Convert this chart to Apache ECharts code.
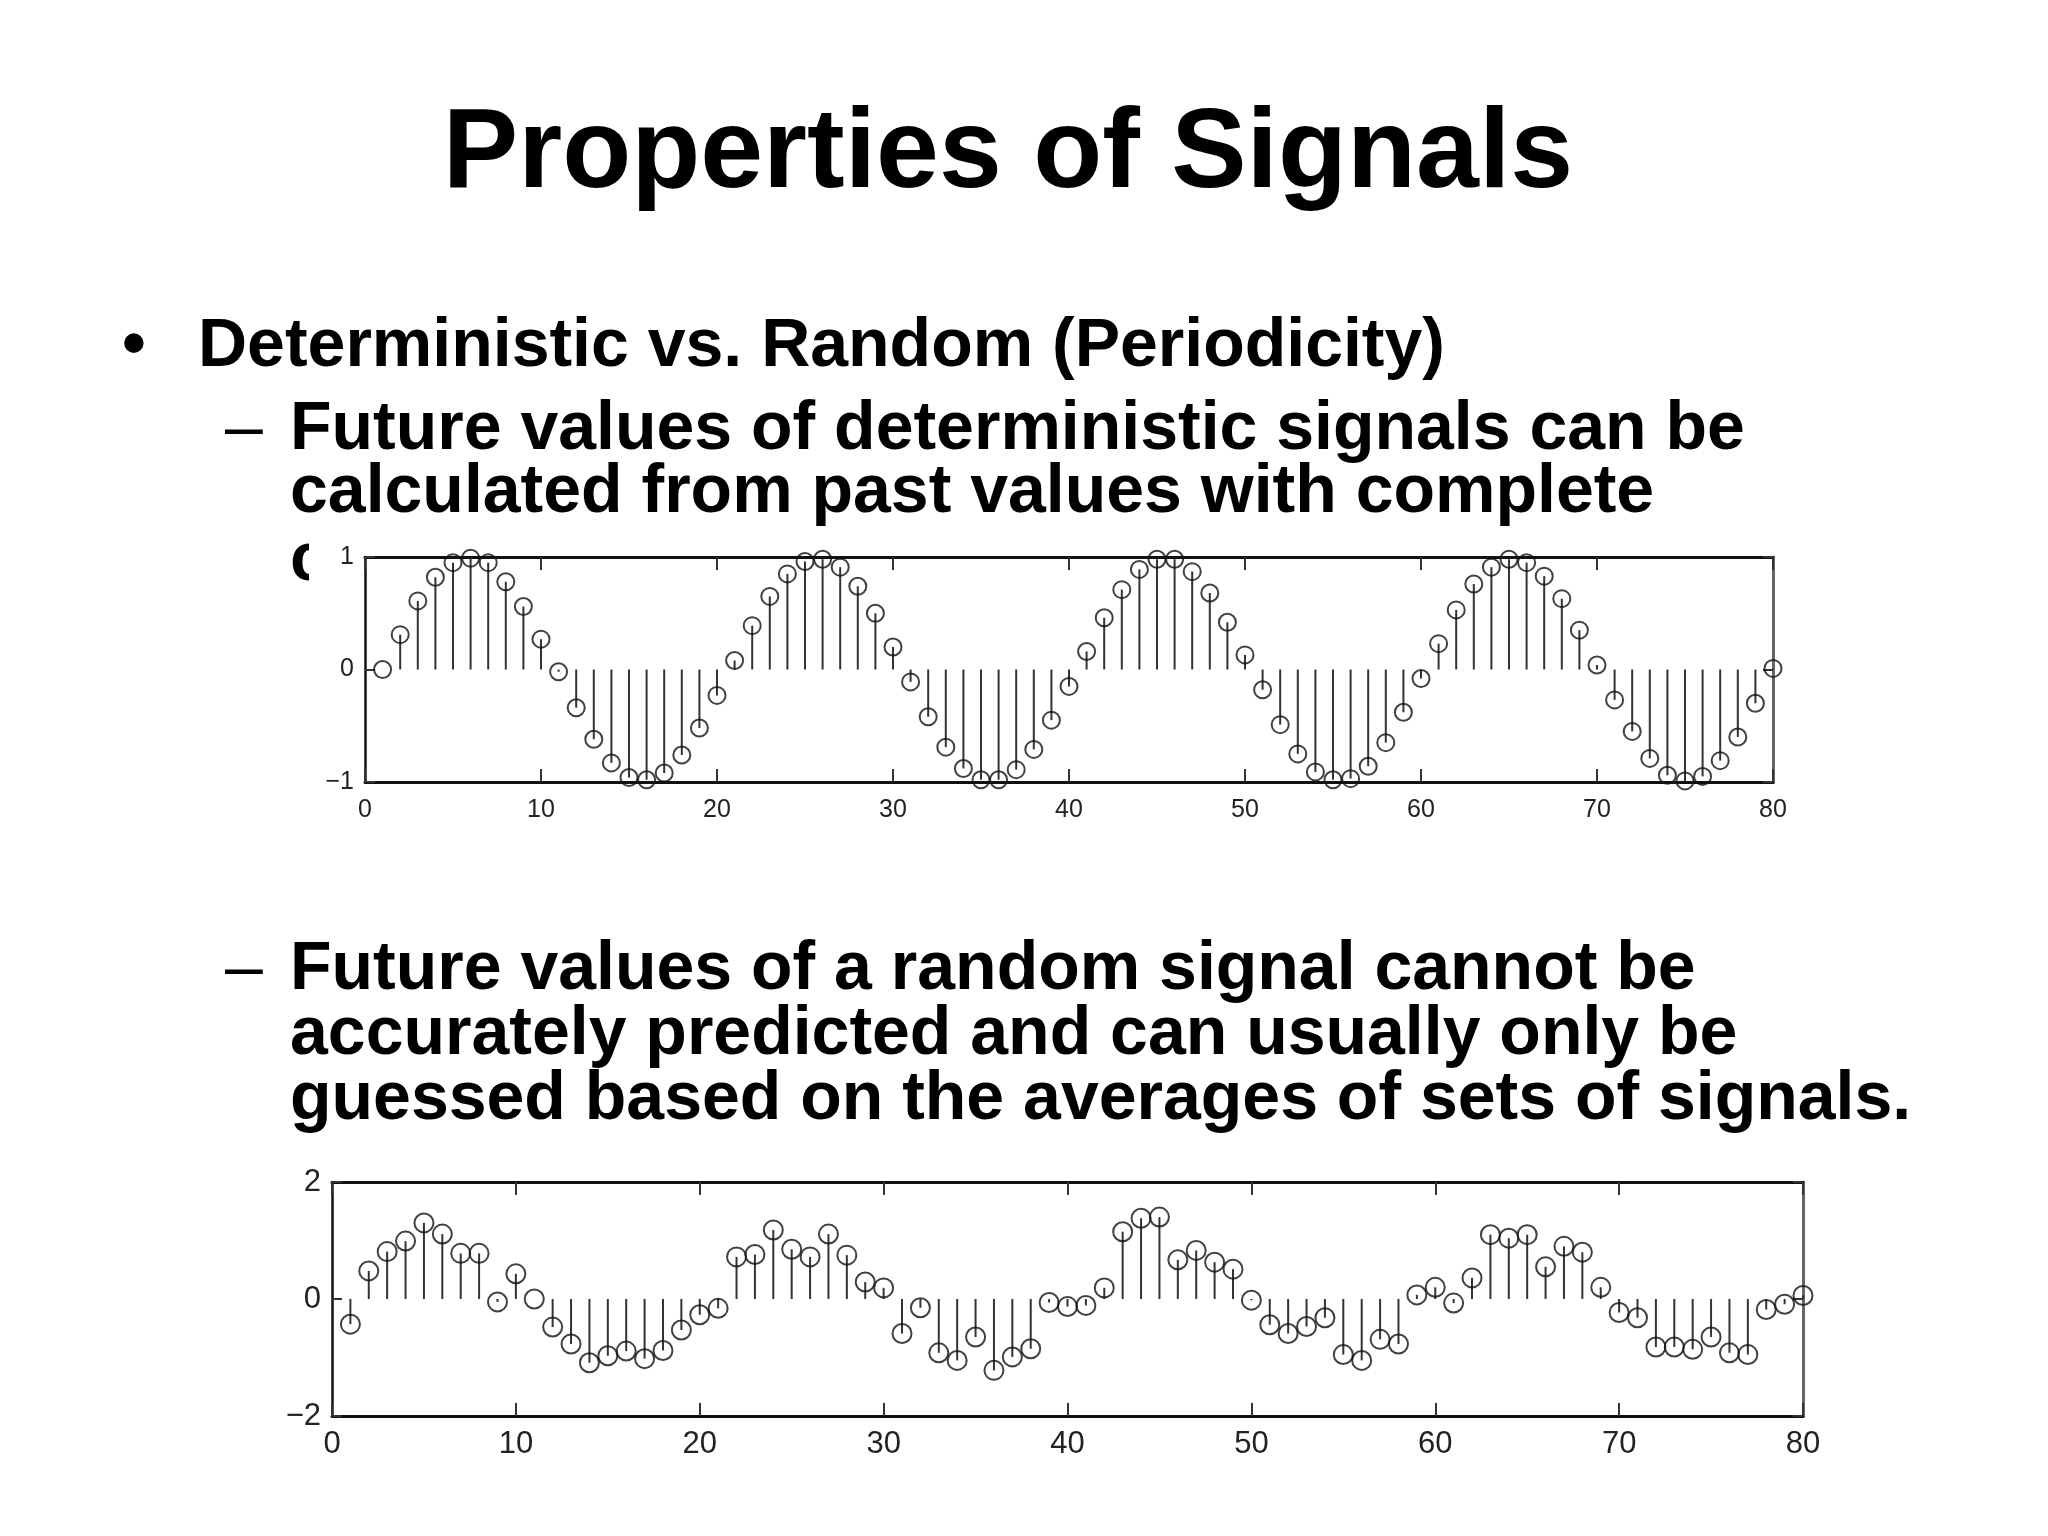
<!DOCTYPE html>
<html>
<head>
<meta charset="utf-8">
<script src="https://cdn.jsdelivr.net/npm/echarts@6/dist/echarts.min.js"></script>
<style>
html,body{margin:0;padding:0;background:#fff;}
#chart{width:2048px;height:1536px;}
</style>
</head>
<body>
<div id="chart"></div>
<script>
// ---- data ----
var sampleIndex = [];
for (var i = 1; i <= 80; i++) sampleIndex.push(i);

var deterministicValues = [
  0.00, 0.31, 0.61, 0.82, 0.95, 0.99, 0.95, 0.78, 0.56, 0.27,
 -0.02,-0.34,-0.62,-0.83,-0.96,-0.98,-0.92,-0.76,-0.52,-0.23,
  0.08, 0.39, 0.65, 0.85, 0.96, 0.98, 0.91, 0.74, 0.50, 0.20,
 -0.11,-0.42,-0.69,-0.88,-0.98,-0.98,-0.89,-0.71,-0.45,-0.15,
  0.16, 0.46, 0.71, 0.89, 0.98, 0.98, 0.87, 0.68, 0.42, 0.13,
 -0.18,-0.49,-0.75,-0.91,-0.98,-0.97,-0.86,-0.65,-0.38,-0.08,
  0.23, 0.53, 0.76, 0.91, 0.98, 0.95, 0.83, 0.63, 0.35, 0.04,
 -0.27,-0.55,-0.79,-0.94,-0.99,-0.95,-0.81,-0.60,-0.30, 0.01
];

var randomValues = [
 -0.43, 0.48, 0.81, 0.99, 1.30, 1.11, 0.78, 0.78,-0.05, 0.43,
  0.00,-0.48,-0.77,-1.09,-0.97,-0.89,-1.02,-0.88,-0.53,-0.27,
 -0.16, 0.72, 0.76, 1.18, 0.85, 0.72, 1.11, 0.75, 0.29, 0.19,
 -0.59,-0.15,-0.92,-1.05,-0.65,-1.22,-0.99,-0.85,-0.06,-0.13,
 -0.11, 0.19, 1.15, 1.38, 1.40, 0.67, 0.83, 0.63, 0.51,-0.02,
 -0.44,-0.59,-0.47,-0.32,-0.95,-1.05,-0.69,-0.77, 0.07, 0.20,
 -0.07, 0.36, 1.10, 1.04, 1.10, 0.55, 0.90, 0.80, 0.20,-0.23,
 -0.32,-0.82,-0.82,-0.86,-0.65,-0.92,-0.95,-0.18,-0.09, 0.06
];

var xTickLabels = ['0','10','20','30','40','50','60','70','80'];
var topYTickLabels = {'-1':'\u22121','0':'0','1':'1'};
var bottomYTickLabels = {'-2':'\u22122','0':'0','2':'2'};

var titleText = 'Properties of Signals';
var bulletText = 'Deterministic vs. Random (Periodicity)';
var sub1Lines = ['Future values of deterministic signals can be','calculated from past values with complete','certainty.'];
var sub2Lines = ['Future values of a random signal cannot be','accurately predicted and can usually only be','guessed based on the averages of sets of signals.'];

// ---- build ----
function pairs(vals){ return sampleIndex.map(function(n,i){ return [n, vals[i]]; }); }

var FONT = '"Liberation Sans", Arial, Helvetica, sans-serif';
var chart = echarts.init(document.getElementById('chart'), null, {renderer:'canvas'});

function xAxes(grid, fontSize, margin){
  var tickStyle = {color:'#333', width:2};
  return [
    {gridIndex:grid, type:'value', min:0, max:80, interval:10, position:'bottom', z:10,
     axisLine:{show:true, onZero:false, lineStyle:{color:'#111', width:3}},
     axisTick:{show:true, inside:true, length:13, lineStyle:tickStyle},
     axisLabel:{show:true, fontSize:fontSize, color:'#222', fontFamily:FONT, margin:margin,
       formatter:function(v){ return xTickLabels[Math.round(v/10)]; }},
     splitLine:{show:false}},
    {gridIndex:grid, type:'value', min:0, max:80, interval:10, position:'top', z:10,
     axisLine:{show:true, onZero:false, lineStyle:{color:'#111', width:3}},
     axisTick:{show:true, inside:true, length:13, lineStyle:tickStyle},
     axisLabel:{show:false}, splitLine:{show:false}}
  ];
}
function yAxes(grid, lim, labels, fontSize){
  return [
    {gridIndex:grid, type:'value', min:-lim, max:lim, interval:lim, position:'left', z:10,
     axisLine:{show:true, onZero:false, lineStyle:{color:'#111', width:2.5}},
     axisTick:{show:true, inside:true, length:10, lineStyle:{color:'#333', width:2}},
     axisLabel:{show:true, fontSize:fontSize, color:'#222', fontFamily:FONT, margin:11,
       formatter:function(v){ return labels[String(v)]; }},
     splitLine:{show:false}},
    {gridIndex:grid, type:'value', min:-lim, max:lim, interval:lim, position:'right', z:10,
     axisLine:{show:true, onZero:false, lineStyle:{color:'#666', width:3}},
     axisTick:{show:true, inside:true, length:10, lineStyle:{color:'#333', width:2}},
     axisLabel:{show:false}, splitLine:{show:false}}
  ];
}

function txt(s, x, baseline, size, opts){
  opts = opts || {};
  return {type:'text', z:0, x:x, y:baseline - size*0.33,
    style:{text:s, fill:'#000', font:(opts.weight||'bold')+' '+size+'px '+FONT,
      align:opts.align||'left', verticalAlign:'middle'}};
}

var graphics = [
  txt(titleText, 1008, 193, 113, {align:'center'}),
  txt('\u2022', 122, 370, 68),
  txt(bulletText, 198, 370, 68),
  txt('\u2013', 225, 453, 68, {weight:'normal'}),
  txt(sub1Lines[0], 290, 453, 68),
  txt(sub1Lines[1], 290, 516, 68),
  txt(sub1Lines[2], 290, 584, 68),
  txt('\u2013', 225, 993, 68, {weight:'normal'}),
  txt(sub2Lines[0], 290, 993, 68),
  txt(sub2Lines[1], 290, 1058, 68),
  txt(sub2Lines[2], 290, 1123, 68),
  {type:'rect', z:1, shape:{x:309, y:530, width:1490, height:305}, style:{fill:'#fff'}}
];

var option = {
  backgroundColor:'#fff',
  animation:false,
  grid:[
    {left:365, top:557, width:1408, height:225, containLabel:false},
    {left:332, top:1182, width:1471, height:234, containLabel:false}
  ],
  xAxis: xAxes(0, 25, 16).concat(xAxes(1, 31, 13)),
  yAxis: yAxes(0, 1, topYTickLabels, 25).concat(yAxes(1, 2, bottomYTickLabels, 31)),
  graphic: graphics,
  series:[
    {type:'bar', xAxisIndex:0, yAxisIndex:0, data:pairs(deterministicValues), barWidth:2,
     itemStyle:{color:'#333'}, z:10, silent:true},
    {type:'scatter', xAxisIndex:0, yAxisIndex:0, data:pairs(deterministicValues), symbol:'circle', symbolSize:17,
     itemStyle:{color:'rgba(0,0,0,0)', borderColor:'#111', borderWidth:2}, z:11, silent:true, clip:false},
    {type:'bar', xAxisIndex:2, yAxisIndex:2, data:pairs(randomValues), barWidth:2,
     itemStyle:{color:'#333'}, z:10, silent:true},
    {type:'scatter', xAxisIndex:2, yAxisIndex:2, data:pairs(randomValues), symbol:'circle', symbolSize:19,
     itemStyle:{color:'rgba(0,0,0,0)', borderColor:'#111', borderWidth:2}, z:11, silent:true, clip:false}
  ]
};
chart.setOption(option);
</script>
</body>
</html>
